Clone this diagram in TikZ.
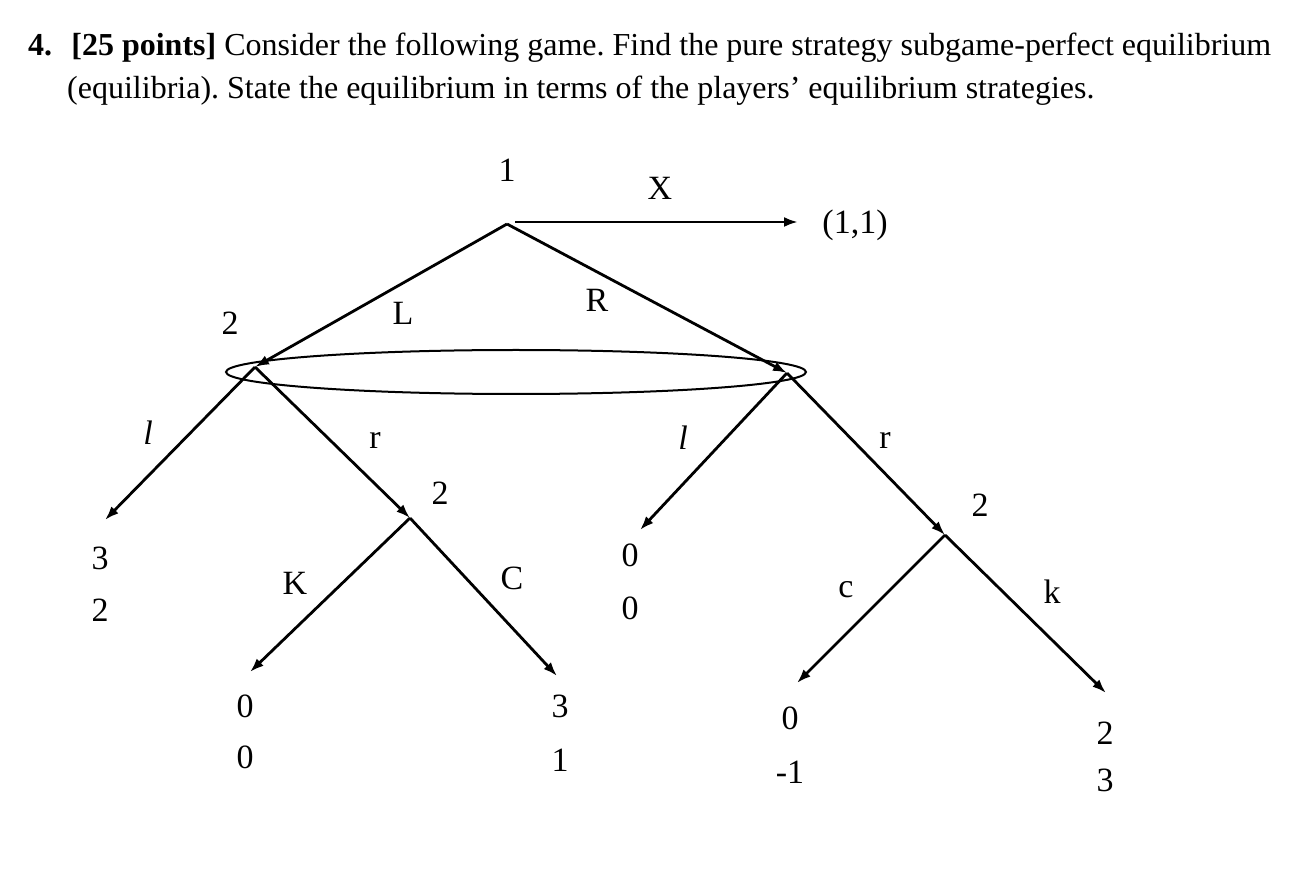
\documentclass[tikz,border=0pt]{standalone}
\usepackage{fontspec}
\setmainfont{Liberation Serif}
\usetikzlibrary{arrows.meta}
\frenchspacing
\begin{document}
\begin{tikzpicture}[x=1pt,y=-1pt,
  br/.style={line width=2.8pt,-{Latex[length=14pt,width=10pt]}},
  lbl/.style={font=\fontsize{34}{34}\selectfont,inner sep=0pt},
  ttl/.style={font=\fontsize{32}{38}\selectfont,inner sep=0pt,anchor=west}]
\useasboundingbox (0,0) rectangle (1302,890);
\node[ttl] (t1) at (28,48) {\textbf{4.\hspace{0.6em}[25 points]} Consider the following game. Find the pure strategy subgame-perfect equilibrium};
\node[ttl] (t2) at (67,91) {(equilibria). State the equilibrium in terms of the players’ equilibrium strategies.};
\coordinate (root) at (507,224);
\coordinate (xs) at (515,222);
\coordinate (xe) at (798,222);
\coordinate (nl) at (255,367);
\coordinate (nr) at (787,373);
\coordinate (a1) at (105,520);
\coordinate (n2) at (410,518);
\coordinate (a2) at (250,672);
\coordinate (a3) at (557,676);
\coordinate (b1) at (640,530);
\coordinate (n3) at (945,535);
\coordinate (b2) at (797,683);
\coordinate (b3) at (1106,693);
\draw[br] (xs) -- (xe);
\draw[br] (root) -- (nl);
\draw[br] (root) -- (nr);
\draw[line width=2pt] (516,372) ellipse [x radius=290, y radius=22];
\draw[br] (nl) -- (a1);
\draw[br] (nl) -- (n2);
\draw[br] (n2) -- (a2);
\draw[br] (n2) -- (a3);
\draw[br] (nr) -- (b1);
\draw[br] (nr) -- (n3);
\draw[br] (n3) -- (b2);
\draw[br] (n3) -- (b3);
\node[lbl] (p1) at (507,170) {1};
\node[lbl] (lx) at (660,188) {X};
\node[lbl] (o11) at (855,225) {(1,1)};
\node[lbl] (p2a) at (230,323) {2};
\node[lbl] (lL) at (403,313) {L};
\node[lbl] (lR) at (597,300) {R};
\node[lbl] (ll1) at (148,433) {\itshape l};
\node[lbl] (lr1) at (375,440) {r};
\node[lbl] (p2b) at (440,493) {2};
\node[lbl] (lK) at (295,583) {K};
\node[lbl] (lC) at (512,578) {C};
\node[lbl] (ll2) at (683,438) {\itshape l};
\node[lbl] (lr2) at (885,440) {r};
\node[lbl] (p2c) at (980,505) {2};
\node[lbl] (lc) at (846,590) {c};
\node[lbl] (lk) at (1052,592) {k};
\node[lbl] (v1) at (100,558) {3};
\node[lbl] (v1b) at (100,610) {2};
\node[lbl] (v2) at (245,706) {0};
\node[lbl] (v2b) at (245,757) {0};
\node[lbl] (v3) at (560,706) {3};
\node[lbl] (v3b) at (560,760) {1};
\node[lbl] (v4) at (630,555) {0};
\node[lbl] (v4b) at (630,608) {0};
\node[lbl] (v5) at (790,718) {0};
\node[lbl] (v5b) at (790,772) {-1};
\node[lbl] (v6) at (1105,733) {2};
\node[lbl] (v6b) at (1105,780) {3};
\end{tikzpicture}
\end{document}
